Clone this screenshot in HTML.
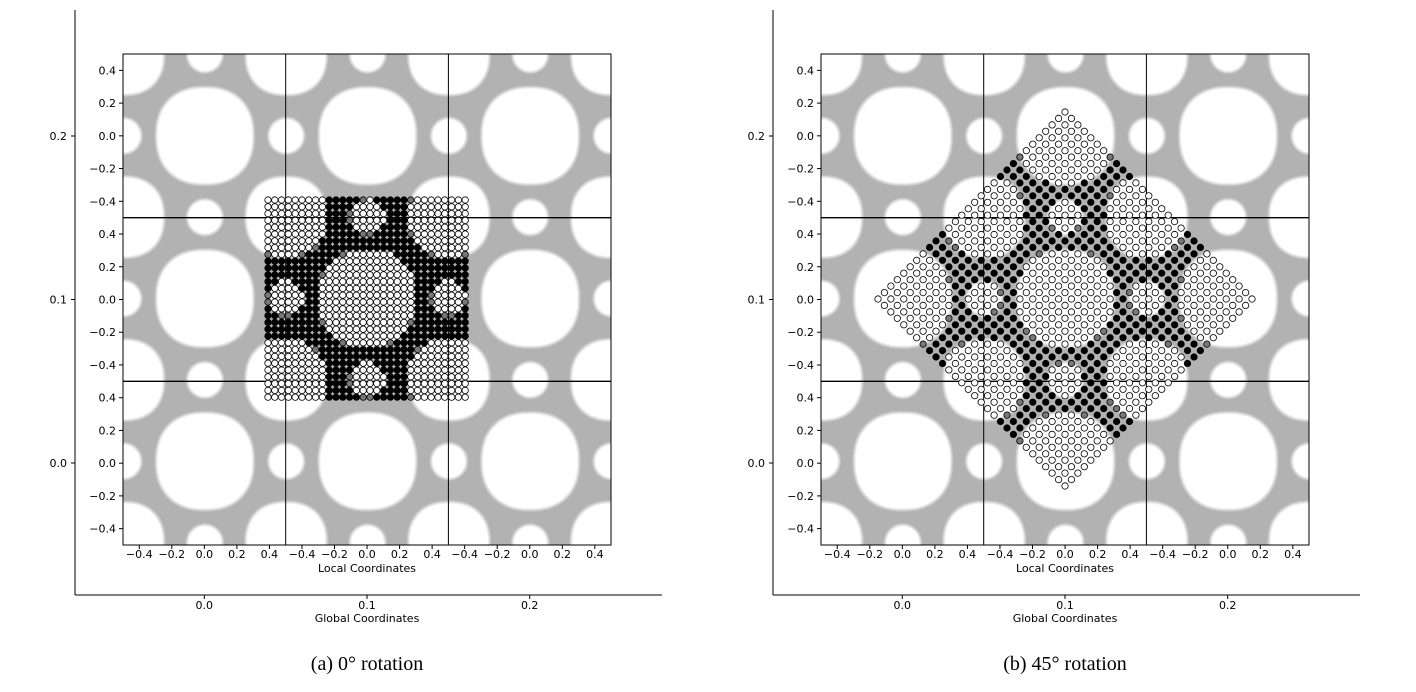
<!DOCTYPE html>
<html><head><meta charset="utf-8"><style>
body{margin:0;background:#fff;width:1416px;height:692px;overflow:hidden;position:relative}
canvas{position:absolute}
svg{position:absolute;left:0;top:0}
</style></head><body>
<canvas id="c0" width="488" height="491" style="left:123px;top:54px"></canvas>
<canvas id="c1" width="488" height="491" style="left:821px;top:54px"></canvas>
<svg id="s" width="1416" height="692" xmlns="http://www.w3.org/2000/svg" font-family="DejaVu Sans, Liberation Sans, sans-serif"></svg>
<script>
const T=162.7;
const blobs=[[0.5,0.5,0.30,2.3],[0,0,0.25,2.3],[1,0,0.25,2.3],[0,1,0.25,2.3],[1,1,0.25,2.3],
[0,0.5,0.11,2],[1,0.5,0.11,2],[0.5,0,0.11,2],[0.5,1,0.11,2]];
function wv(u,v){u-=Math.floor(u);v-=Math.floor(v);let m=-9;
for(const b of blobs){const du=Math.abs(u-b[0]),dv=Math.abs(v-b[1]);
const d=Math.pow(Math.pow(du,b[3])+Math.pow(dv,b[3]),1/b[3]);const val=(b[2]-d)*T;if(val>m)m=val;}
return Math.min(1,Math.max(0,m/4+0.5));}
for(const id of ['c0','c1']){const c=document.getElementById(id),ctx=c.getContext('2d');
const im=ctx.createImageData(488,491);for(let y=0;y<491;y++)for(let x=0;x<488;x++){
const w=wv(x/T,y/T);const g=Math.round(178+77*w);const i=(y*488+x)*4;
im.data[i]=im.data[i+1]=im.data[i+2]=g;im.data[i+3]=255;}ctx.putImageData(im,0,0);}
const S=document.getElementById('s');let h='';
function txt(x,y,t,a,sz,ff){h+=`<text x="${x}" y="${y}" font-size="${sz||11}" text-anchor="${a||'middle'}"${ff?` font-family="${ff}"`:''}>${t}</text>`;}
function f(v){return v<0?'−'+(-v).toFixed(1):v.toFixed(1);}
function pt(x,y,w){let fill=w<0.3?'#000':(w>0.7?'#fff':'#777');
h+=`<circle cx="${x.toFixed(1)}" cy="${y.toFixed(1)}" r="3.2" fill="${fill}" stroke="#000" stroke-width="0.8"/>`;}
for(let p=0;p<2;p++){const ox=p*698,L=123+ox,R=611+ox,Tp=54,B=545;
h+=`<rect x="${L}" y="${Tp}" width="488" height="491" fill="none" stroke="#000" stroke-width="1"/>`;
for(let k=1;k<3;k++){const x=L+k*T,y=Tp+k*(491/3);
h+=`<line x1="${x}" y1="${Tp}" x2="${x}" y2="${B}" stroke="#000" stroke-width="1"/>`;
h+=`<line x1="${L}" y1="${y}" x2="${R}" y2="${y}" stroke="#000" stroke-width="1.3"/>`;}
const vals=[-0.4,-0.2,0,0.2,0.4];
for(let k=0;k<3;k++)for(const v of vals){const x=L+k*T+(v+0.5)*T;
h+=`<line x1="${x}" y1="${B}" x2="${x}" y2="${B+4}" stroke="#000"/>`;txt(x,B+13,f(v));
const y=Tp+k*(491/3)+(0.5-v)*(491/3);
h+=`<line x1="${L-4}" y1="${y}" x2="${L}" y2="${y}" stroke="#000"/>`;txt(L-7,y+4,f(v),'end');}
txt(L+244,572,'Local Coordinates');
h+=`<line x1="${75+ox}" y1="10" x2="${75+ox}" y2="595" stroke="#000"/><line x1="${75+ox}" y1="595" x2="${662+ox}" y2="595" stroke="#000"/>`;
[[0.0,204.3],[0.1,367],[0.2,529.7]].forEach(([v,x])=>{h+=`<line x1="${x+ox}" y1="595" x2="${x+ox}" y2="599" stroke="#000"/>`;txt(x+ox,609,v.toFixed(1));});
[[0.2,136],[0.1,299.5],[0.0,463]].forEach(([v,y])=>{h+=`<line x1="${71+ox}" y1="${y}" x2="${75+ox}" y2="${y}" stroke="#000"/>`;txt(67+ox,y+4,v.toFixed(1),'end');});
txt(367+ox,622,'Global Coordinates');
txt(367+ox,670,p?'(b) 45° rotation':'(a) 0° rotation','middle',20,'Liberation Serif, serif');}
const n=30,sp=6.8;for(let i=0;i<n;i++)for(let j=0;j<n;j++){const x=268+i*sp,y=200+j*sp;pt(x,y,wv((x-123)/T,(y-54)/T));}
const s2=9.12/Math.SQRT2;for(let a=0;a<n;a++)for(let b=0;b<n;b++){const A=a-14.5,Bb=b-14.5;
const x=1065+(A-Bb)*s2,y=299+(A+Bb)*s2;pt(x,y,wv((x-821)/T,(y-54)/T));}
S.innerHTML=h;
</script></body></html>
